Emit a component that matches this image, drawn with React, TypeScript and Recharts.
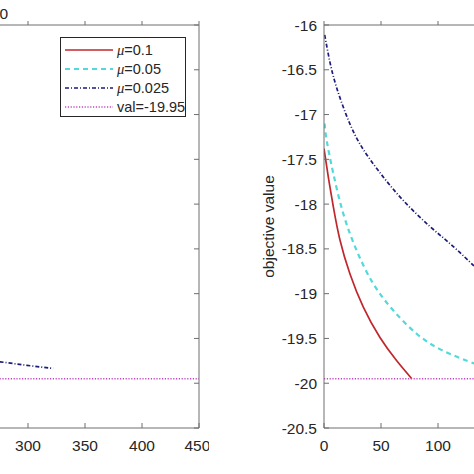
import { LineChart, Line, XAxis, YAxis } from 'recharts'

type Pt = { x: number; y: number }

const RIGHT_X_TICKS = [0, 50, 100]
const LEFT_X_TICKS = [300, 350, 400, 450]
const Y_TICKS = [-20.5, -20, -19.5, -19, -18.5, -18, -17.5, -17, -16.5, -16]
const TARGET = -19.95

// right panel
const rightMu01: Pt[] = [
  { x: 0, y: -17.38 }, { x: 3.8, y: -17.7 }, { x: 8.2, y: -18.03 },
  { x: 14, y: -18.4 }, { x: 22.8, y: -18.78 }, { x: 34.5, y: -19.15 },
  { x: 49.1, y: -19.49 }, { x: 63.8, y: -19.75 }, { x: 77, y: -19.95 },
]
const rightMu005: Pt[] = [
  { x: 0.5, y: -17.1 }, { x: 2.5, y: -17.3 }, { x: 8.2, y: -17.66 },
  { x: 17, y: -18.11 }, { x: 28.7, y: -18.52 }, { x: 43.3, y: -18.89 },
  { x: 61, y: -19.19 }, { x: 81.5, y: -19.45 }, { x: 105, y: -19.64 },
  { x: 131.7, y: -19.78 }, { x: 140, y: -19.82 },
]
const rightMu0025: Pt[] = [
  { x: 0.6, y: -16.11 }, { x: 5.3, y: -16.42 }, { x: 11.1, y: -16.7 },
  { x: 20, y: -17.02 }, { x: 31.6, y: -17.33 }, { x: 49.1, y: -17.65 },
  { x: 69.6, y: -17.96 }, { x: 93, y: -18.25 }, { x: 114, y: -18.48 },
  { x: 131.7, y: -18.69 }, { x: 140, y: -18.77 },
]
// left panel: only the tail of mu=0.025 is in frame
const leftMu0025: Pt[] = [
  { x: 275, y: -19.76 }, { x: 299, y: -19.8 }, { x: 322, y: -19.835 },
]
const valLine: Pt[] = [
  { x: 0, y: TARGET }, { x: 450, y: TARGET },
]

const RED = '#c0272d'
const CYAN = '#52dada'
const NAVY = '#1b1b7a'
const MAGENTA = '#c445c4'
const AXIS = '#6e6e6e'
const TEXT = '#262626'
const FONT = "'Liberation Sans', Arial, sans-serif"

const SERIES = [
  { key: 'mu01', mu: true, label: '=0.1', color: RED, dash: undefined, width: 1.7 },
  { key: 'mu005', mu: true, label: '=0.05', color: CYAN, dash: '5 4', width: 2.2 },
  { key: 'mu0025', mu: true, label: '=0.025', color: NAVY, dash: '4 2 1 2', width: 1.7 },
  { key: 'val', mu: false, label: 'val=-19.95', color: MAGENTA, dash: '1.2 1.6', width: 1.5 },
]
const style = (k: string) => SERIES.find((s) => s.key === k)!

const tickStyle = { fill: TEXT, fontSize: 15.5, fontFamily: FONT }

function axes(xTicks: number[], showLeft: boolean, leftLabel?: string) {
  return [
    <XAxis
      key="b"
      xAxisId="b"
      type="number"
      dataKey="x"
      domain={[0, 450]}
      ticks={xTicks}
      allowDataOverflow
      height={47}
      stroke={AXIS}
      tickSize={-5}
      tickMargin={17}
      tick={tickStyle}
    />,
    // top edge of the box (labels kept but transparent)
    <XAxis
      key="t"
      xAxisId="t"
      orientation="top"
      type="number"
      dataKey="x"
      domain={[0, 450]}
      ticks={xTicks}
      height={20}
      stroke={AXIS}
      tickSize={4}
      tick={{ fill: 'transparent', fontSize: 1 }}
    />,
    <YAxis
      key="l"
      yAxisId="l"
      type="number"
      domain={[-20.5, -16]}
      ticks={Y_TICKS}
      allowDataOverflow
      hide={!showLeft}
      width={80}
      stroke={AXIS}
      tickSize={-5}
      tickMargin={12}
      tick={tickStyle}
      label={
        leftLabel
          ? {
              value: leftLabel,
              angle: -90,
              position: 'insideLeft',
              offset: 24,
              style: { textAnchor: 'middle', fill: TEXT, fontSize: 15.5, fontFamily: FONT },
            }
          : undefined
      }
    />,
    // right edge of the box
    <YAxis
      key="r"
      yAxisId="r"
      orientation="right"
      type="number"
      domain={[-20.5, -16]}
      ticks={Y_TICKS}
      width={1}
      stroke={AXIS}
      tickSize={-5}
      tickFormatter={() => ''}
    />,
  ]
}

// invisible series that keeps the top / right box axes bound
function boxLine() {
  return (
    <Line
      key="box"
      xAxisId="t"
      yAxisId="r"
      data={valLine}
      dataKey="y"
      stroke="none"
      dot={false}
      isAnimationActive={false}
    />
  )
}

function series(k: string, data: Pt[]) {
  const s = style(k)
  return (
    <Line
      key={k}
      xAxisId="b"
      yAxisId="l"
      data={data}
      dataKey="y"
      type="natural"
      stroke={s.color}
      strokeWidth={s.width}
      strokeDasharray={s.dash}
      dot={false}
      activeDot={false}
      isAnimationActive={false}
    />
  )
}

function Legend() {
  return (
    <div
      style={{
        position: 'absolute',
        left: 60,
        top: 37,
        width: 126,
        height: 80,
        border: `1px solid ${TEXT}`,
        background: '#fff',
        boxSizing: 'border-box',
      }}
    >
      {SERIES.map((s, i) => (
        <div
          key={s.key}
          style={{
            position: 'absolute',
            left: 3,
            top: 3 + i * 19,
            height: 18,
            display: 'flex',
            alignItems: 'center',
            fontFamily: FONT,
            fontSize: 14.5,
            color: TEXT,
            whiteSpace: 'nowrap',
          }}
        >
          <svg width={50} height={18} style={{ marginRight: 3 }}>
            <line
              x1={1}
              x2={49}
              y1={9}
              y2={9}
              stroke={s.color}
              strokeWidth={s.width}
              strokeDasharray={s.dash}
            />
          </svg>
          {s.mu && <span style={{ fontStyle: 'italic', fontFamily: "'Liberation Serif', serif" }}>μ</span>}
          <span>{s.label}</span>
        </div>
      ))}
    </div>
  )
}

export default function App() {
  return (
    <div
      style={{
        position: 'absolute',
        left: 0,
        top: 0,
        width: 474,
        height: 474,
        overflow: 'hidden',
        background: '#fff',
      }}
    >
      <div style={{ position: 'absolute', left: -394.5, top: 0.5 }}>
        <LineChart width={603} height={474} margin={{ top: 4, right: 9, bottom: 0, left: 80 }}>
          {axes(LEFT_X_TICKS, false)}
          {series('mu0025', leftMu0025)}
          {series('val', valLine)}
          {boxLine()}
        </LineChart>
      </div>
      <div style={{ position: 'absolute', left: 243.5, top: 0.5 }}>
        <LineChart width={603} height={474} margin={{ top: 4, right: 9, bottom: 0, left: 0 }}>
          {axes(RIGHT_X_TICKS, true, 'objective value')}
          {series('mu01', rightMu01)}
          {series('mu005', rightMu005)}
          {series('mu0025', rightMu0025)}
          {series('val', valLine)}
          {boxLine()}
        </LineChart>
      </div>
      <Legend />
      <svg style={{ position: 'absolute', left: 0, top: 0 }} width={20} height={24}>
        <text x={8} y={19} textAnchor="end" fill={TEXT} fontSize={15.5} fontFamily={FONT}>
          0
        </text>
      </svg>
    </div>
  )
}
